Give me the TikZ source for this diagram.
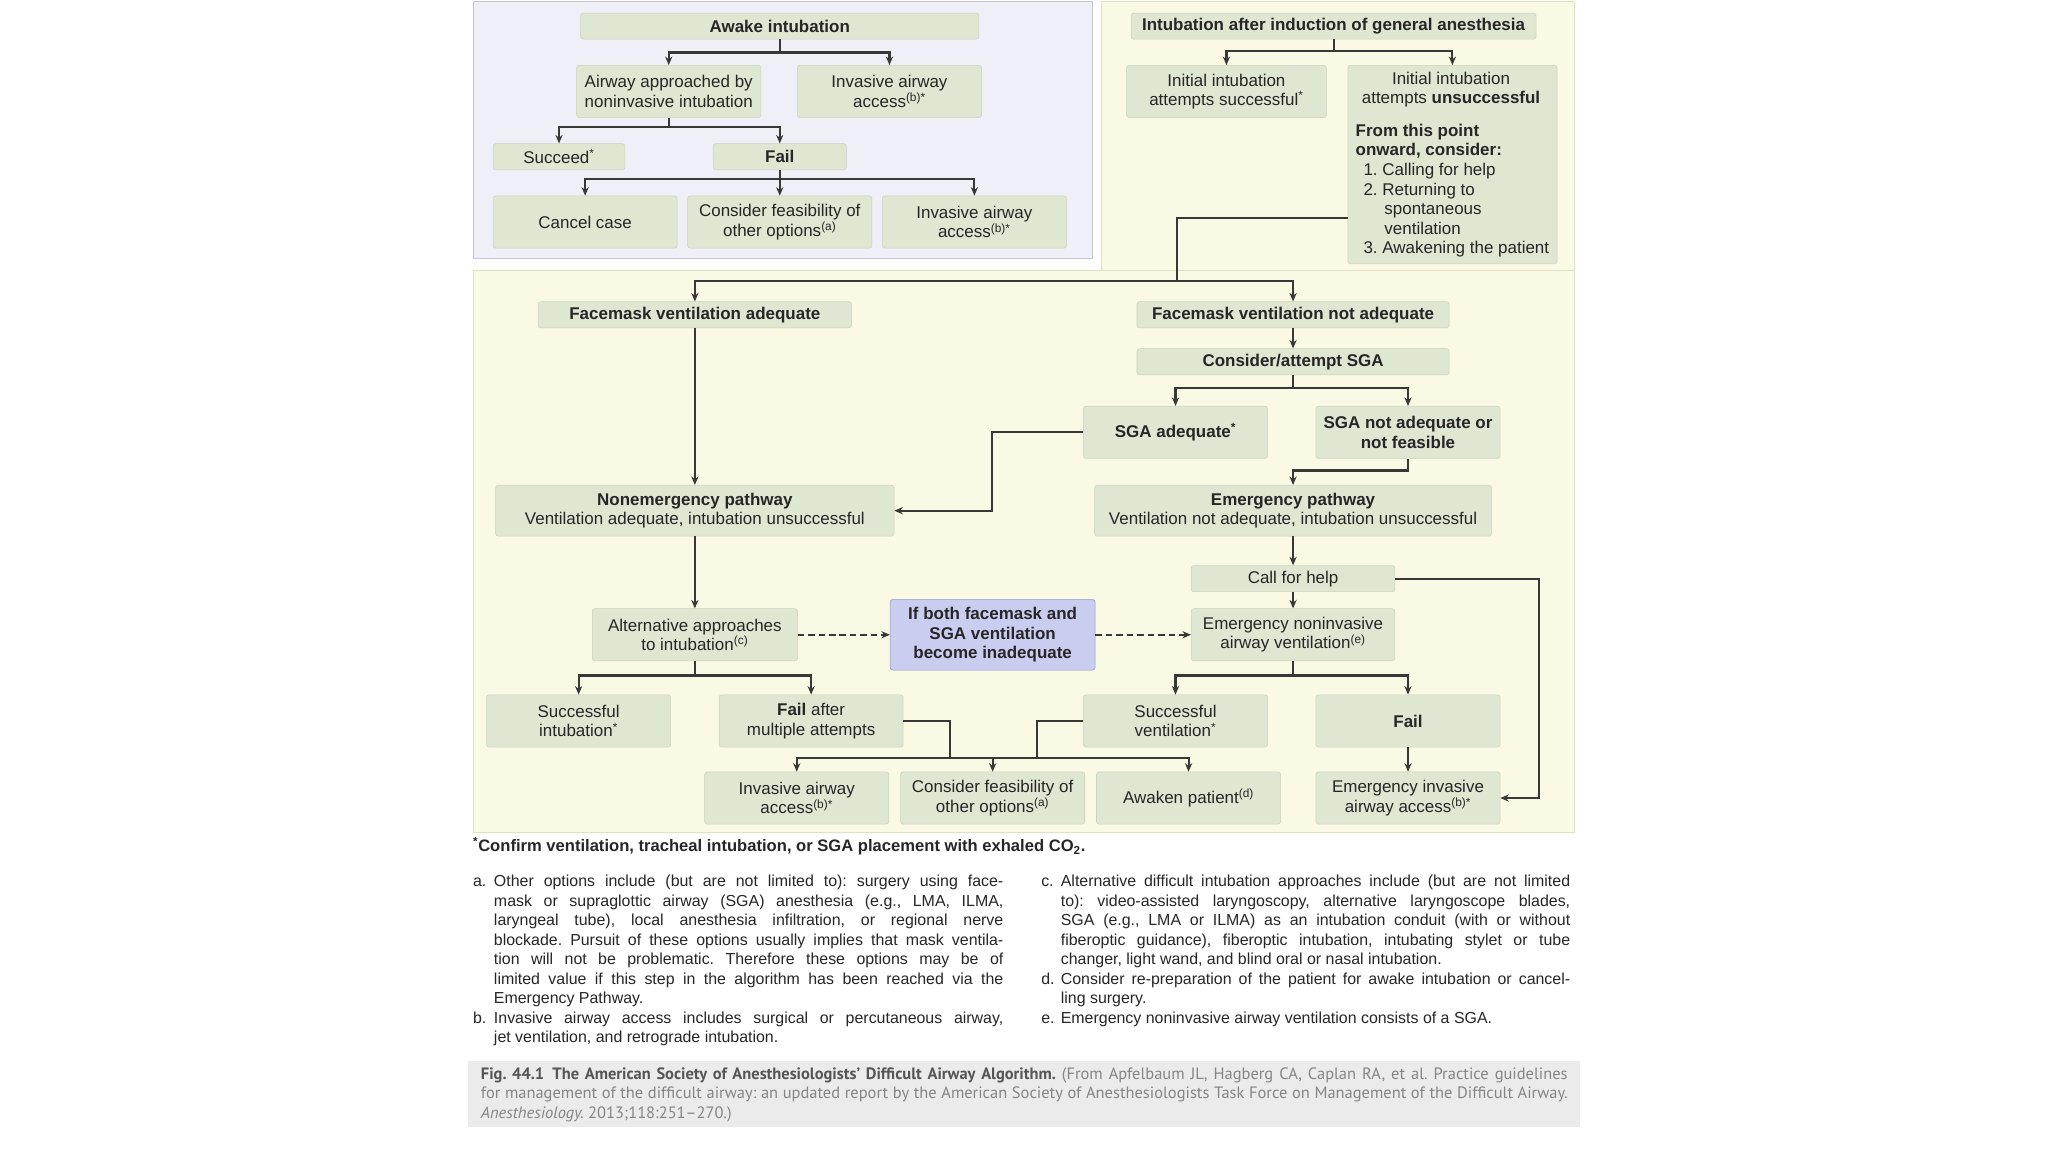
\documentclass[tikz,border=0pt]{standalone}
\usepackage{fontspec}
\usetikzlibrary{arrows.meta}
\setmainfont{Liberation Sans}
\newfontfamily\capfont{PT Sans}
\frenchspacing
\definecolor{ink}{HTML}{262626}
\definecolor{linec}{HTML}{383838}
\definecolor{boxfill}{HTML}{DFE6D2}
\definecolor{boxline}{HTML}{C9D2BC}
\definecolor{bluefill}{HTML}{C9CEF0}
\definecolor{blueline}{HTML}{8D95C8}
\definecolor{lavfill}{HTML}{EFEFF8}
\definecolor{lavline}{HTML}{C6C6D8}
\definecolor{creamfill}{HTML}{FAFAE4}
\definecolor{creamline}{HTML}{E0E0C4}
\definecolor{capfill}{HTML}{EBEBEB}
\definecolor{capdark}{HTML}{555555}
\definecolor{caplight}{HTML}{858585}
\newcommand{\boxfont}{\fontsize{13}{15}\selectfont}
\newcommand{\notefont}{\fontsize{12.2}{14.9}\selectfont}
\newcommand{\noteline}[1]{\makebox[390pt][s]{#1}}
\newcommand{\capline}[1]{\makebox[832pt][s]{#1}}
\tikzstyle{box} = [rectangle, rounded corners=2pt, draw=boxline, fill=boxfill, text=ink, align=center, inner sep=1pt, minimum width=141pt, minimum height=40pt, font=\boxfont]
\tikzstyle{heavy} = [font=\boxfont\bfseries]
\tikzstyle{flat} = [minimum height=20pt]
\tikzstyle{blue} = [fill=bluefill, draw=blueline, font=\boxfont\bfseries]
\tikzstyle{arrow} = [line width=1.6pt, draw=linec, ->, >={Stealth[length=6.5pt,width=5.5pt]}]
\tikzstyle{joint} = [line width=1.6pt, draw=linec]
\tikzstyle{dasharrow} = [arrow, dash pattern=on 5pt off 3pt]
\tikzstyle{notes} = [align=left, inner sep=0pt, text=ink, font=\notefont]
\begin{document}
\begin{tikzpicture}[x=1pt, y=1pt, node distance=50pt]
\fill[white] (0,0) rectangle (1568,-882);
% panels
\draw[fill=lavfill, draw=lavline] (362,-1) rectangle (836,-198);
\draw[fill=creamfill, draw=creamline] (843,-1) rectangle (1205,-207);
\draw[fill=creamfill, draw=creamline] (362,-207) rectangle (1205,-637);

% awake intubation
\node (awake) [box, heavy, flat, minimum width=305pt] at (597,-20) {Awake intubation};
\node (airway) [box, below of=awake, xshift=-85pt] {Airway approached by\\noninvasive intubation};
\node (invone) [box, below of=awake, xshift=84pt] {Invasive airway\\access\textsuperscript{(b)*}};
\node (succeed) [box, flat, minimum width=101pt, below of=airway, xshift=-84pt] {Succeed\textsuperscript{*}};
\node (failone) [box, heavy, flat, minimum width=102pt, below of=airway, xshift=85pt] {Fail};
\node (cancel) [box, below of=failone, xshift=-149pt] {Cancel case};
\node (considerone) [box, below of=failone] {Consider feasibility of\\other options\textsuperscript{(a)}};
\node (invtwo) [box, below of=failone, xshift=149pt] {Invasive airway\\access\textsuperscript{(b)*}};

% general anesthesia
\node (induction) [box, heavy, flat, minimum width=310pt] at (1021,-20) {Intubation after induction of general anesthesia};
\node (initok) [box, minimum width=153pt, below of=induction, xshift=-82pt] {Initial intubation\\attempts successful\textsuperscript{*}};
\node (initfail) [box, minimum width=160pt, minimum height=152pt, inner xsep=6pt, align=left, below of=induction, xshift=91pt, yshift=-56pt] {%
\makebox[146pt][c]{Initial intubation}\\
\makebox[146pt][c]{attempts \textbf{unsuccessful}}\\[10pt]
\textbf{From this point}\\
\textbf{onward, consider:}\\
\hspace*{6pt}1.\ Calling for help\\
\hspace*{6pt}2.\ Returning to\\
\hspace*{22pt}spontaneous\\
\hspace*{22pt}ventilation\\
\hspace*{6pt}3.\ Awakening the patient};

\node (fmok) [box, heavy, flat, minimum width=240pt, below of=cancel, xshift=84pt, yshift=-21pt] {Facemask ventilation adequate};
\node (fmno) [box, heavy, flat, minimum width=239pt, right of=fmok, xshift=408pt] {Facemask ventilation not adequate};
\node (sga) [box, heavy, flat, minimum width=239pt, below of=fmno, yshift=14pt] {Consider/attempt SGA};
\node (sgaok) [box, heavy, below of=sga, xshift=-90pt, yshift=-4pt] {SGA adequate\textsuperscript{*}};
\node (sgano) [box, heavy, below of=sga, xshift=88pt, yshift=-4pt] {SGA not adequate or\\not feasible};
\node (nonemerg) [box, minimum width=305pt, minimum height=39pt, below of=fmok, yshift=-100pt] {\textbf{Nonemergency pathway}\\Ventilation adequate, intubation unsuccessful};
\node (emerg) [box, minimum width=304pt, minimum height=39pt, below of=sga, yshift=-64pt] {\textbf{Emergency pathway}\\Ventilation not adequate, intubation unsuccessful};
\node (callhelp) [box, flat, minimum width=156pt, below of=emerg, yshift=-2pt] {Call for help};
\node (envent) [box, minimum width=156pt, below of=callhelp, yshift=7pt] {Emergency noninvasive\\airway ventilation\textsuperscript{(e)}};
\node (ifboth) [box, blue, minimum width=157pt, minimum height=54pt, left of=envent, xshift=-180pt] {If both facemask and\\SGA ventilation\\become inadequate};
\node (altapp) [box, minimum width=157pt, below of=nonemerg, yshift=-45pt] {Alternative approaches\\to intubation\textsuperscript{(c)}};
\node (sucint) [box, below of=altapp, xshift=-89pt, yshift=-16pt] {Successful\\intubation\textsuperscript{*}};
\node (failmult) [box, below of=altapp, xshift=89pt, yshift=-16pt] {\textbf{Fail} after\\multiple attempts};
\node (sucvent) [box, below of=envent, xshift=-90pt, yshift=-16pt] {Successful\\ventilation\textsuperscript{*}};
\node (failtwo) [box, heavy, below of=envent, xshift=88pt, yshift=-16pt] {Fail};
\node (invthree) [box, below of=failmult, xshift=-11pt, yshift=-9pt] {Invasive airway\\access\textsuperscript{(b)*}};
\node (considertwo) [box, right of=invthree, xshift=100pt] {Consider feasibility of\\other options\textsuperscript{(a)}};
\node (awaken) [box, right of=considertwo, xshift=100pt] {Awaken patient\textsuperscript{(d)}};
\node (eminv) [box, below of=failtwo, yshift=-9pt] {Emergency invasive\\airway access\textsuperscript{(b)*}};

\coordinate (split) at (901,-215);
\coordinate (joinl) at (727,-580);
\coordinate (joinr) at (794,-580);

% connectors
\draw [arrow] (awake.south) -- ++(0,-10) -| (airway.north);
\draw [arrow] (awake.south) -- ++(0,-10) -| (invone.north);
\draw [arrow] (airway.south) -- ++(0,-7) -| (succeed.north);
\draw [arrow] (airway.south) -- ++(0,-7) -| (failone.north);
\draw [arrow] (failone.south) -- ++(0,-7) -| (cancel.north);
\draw [arrow] (failone.south) -- (considerone.north);
\draw [arrow] (failone.south) -- ++(0,-7) -| (invtwo.north);
\draw [arrow] (induction.south) -- ++(0,-9) -| (initok.north);
\draw [arrow] (induction.south) -- ++(0,-9) -| (initfail.north);
\draw [joint] ([yshift=-41pt]initfail.west) -| (split);
\draw [arrow] (split) -| (fmok.north);
\draw [arrow] (split) -| (fmno.north);
\draw [arrow] (fmok) -- (nonemerg);
\draw [arrow] (fmno) -- (sga);
\draw [arrow] (sga.south) -- ++(0,-10) -| (sgaok.north);
\draw [arrow] (sga.south) -- ++(0,-10) -| (sgano.north);
\draw [arrow] (sgaok.west) -- ++(-70,0) |- (nonemerg.east);
\draw [arrow] (sgano.south) -- ++(0,-9) -| (emerg.north);
\draw [arrow] (emerg) -- (callhelp);
\draw [arrow] (callhelp) -- (envent);
\draw [arrow] (callhelp.east) -- ++(110,0) |- (eminv.east);
\draw [arrow] (nonemerg) -- (altapp);
\draw [dasharrow] (altapp) -- (ifboth);
\draw [dasharrow] (ifboth) -- (envent);
\draw [arrow] (altapp.south) -- ++(0,-11) -| (sucint.north);
\draw [arrow] (altapp.south) -- ++(0,-11) -| (failmult.north);
\draw [arrow] (envent.south) -- ++(0,-11) -| (sucvent.north);
\draw [arrow] (envent.south) -- ++(0,-11) -| (failtwo.north);
\draw [joint] (failmult.east) -| (joinl);
\draw [joint] (sucvent.west) -| (joinr);
\draw [joint] (joinl) -- (joinr);
\draw [arrow] (joinl) -| (invthree.north);
\draw [arrow] (joinr) -| (awaken.north);
\draw [arrow] (considertwo.north |- joinl) -- (considertwo.north);
\draw [arrow] (failtwo) -- (eminv);

% footnotes
\node (confirm) [anchor=west, inner sep=0pt, text=ink, font=\fontsize{12.7}{14}\selectfont\bfseries] at (362,-648) {\textsuperscript{*}Confirm ventilation, tracheal intubation, or SGA placement with exhaled CO\textsubscript{2}.};
\node (notesleft) [notes, anchor=north west] at (362,-670) {%
\makebox[16pt][l]{a.}\noteline{Other options include (but are not limited to): surgery using face-}\\
\hspace*{16pt}\noteline{mask or supraglottic airway (SGA) anesthesia (e.g., LMA, ILMA,}\\
\hspace*{16pt}\noteline{laryngeal tube), local anesthesia infiltration, or regional nerve}\\
\hspace*{16pt}\noteline{blockade. Pursuit of these options usually implies that mask ventila-}\\
\hspace*{16pt}\noteline{tion will not be problematic. Therefore these options may be of}\\
\hspace*{16pt}\noteline{limited value if this step in the algorithm has been reached via the}\\
\hspace*{16pt}Emergency Pathway.\\
\makebox[16pt][l]{b.}\noteline{Invasive airway access includes surgical or percutaneous airway,}\\
\hspace*{16pt}jet ventilation, and retrograde intubation.};
\node (notesright) [notes, anchor=north west] at (797,-670) {%
\makebox[15pt][l]{c.}\noteline{Alternative difficult intubation approaches include (but are not limited}\\
\hspace*{15pt}\noteline{to): video-assisted laryngoscopy, alternative laryngoscope blades,}\\
\hspace*{15pt}\noteline{SGA (e.g., LMA or ILMA) as an intubation conduit (with or without}\\
\hspace*{15pt}\noteline{fiberoptic guidance), fiberoptic intubation, intubating stylet or tube}\\
\hspace*{15pt}changer, light wand, and blind oral or nasal intubation.\\
\makebox[15pt][l]{d.}\noteline{Consider re-preparation of the patient for awake intubation or cancel-}\\
\hspace*{15pt}ling surgery.\\
\makebox[15pt][l]{e.}Emergency noninvasive airway ventilation consists of a SGA.};

% caption
\fill[capfill] (358,-812) rectangle (1210,-863);
\node (caption) [anchor=north west, align=left, inner sep=0pt, text=caplight, font=\capfont\fontsize{12.6}{15}\selectfont] at (368,-817) {%
\capline{\textcolor{capdark}{\bfseries Fig. 44.1\enspace The American Society of Anesthesiologists’ Difficult Airway Algorithm.} (From Apfelbaum JL, Hagberg CA, Caplan RA, et al. Practice guidelines}\\
\capline{for management of the difficult airway: an updated report by the American Society of Anesthesiologists Task Force on Management of the Difficult Airway.}\\
\textit{Anesthesiology.} 2013;118:251–270.)};
\end{tikzpicture}
\end{document}
